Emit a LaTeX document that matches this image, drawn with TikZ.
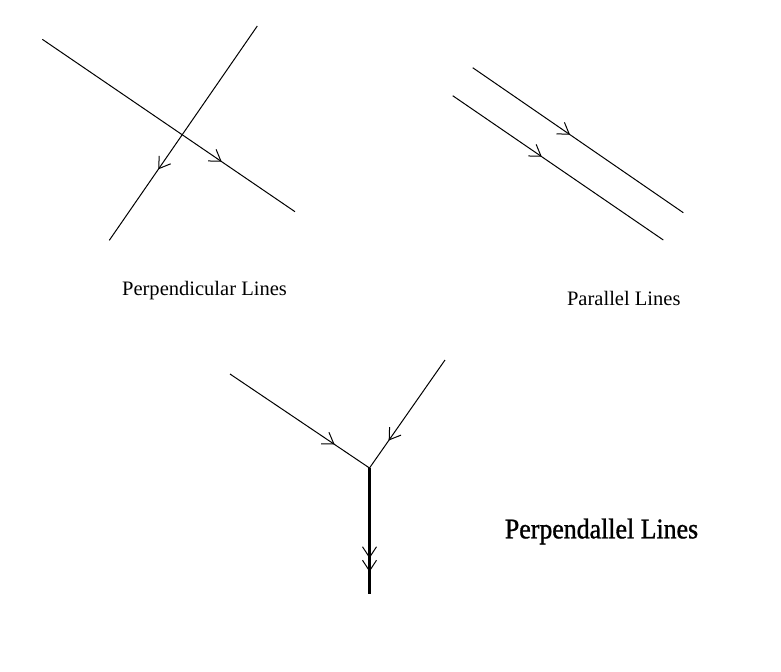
\documentclass[tikz,border=0pt]{standalone}
\usepackage{fontspec}
\usepackage{graphicx}
\setmainfont{Liberation Serif}
\newfontface\heavyfont[FakeBold=1.2]{Liberation Serif}
\usetikzlibrary{arrows.meta, decorations.markings}

\begin{document}
\begin{tikzpicture}[
    x=0.75pt, y=-0.75pt,
    thinline/.style={line width=0.75pt},
    thickline/.style={line width=1.9pt},
    barb/.tip={Straight Barb[length=8pt, width=10.5pt, line width=0.75pt]},
    midarrow/.style={postaction={decorate, decoration={markings,
        mark=at position #1 with {\arrow{barb}}}}},
    caption/.style={font=\fontsize{15.4}{18}\selectfont, anchor=base, inner sep=0pt}
]

% page frame
\useasboundingbox (0,0) rectangle (781,671);

% Perpendicular lines
\coordinate (perp_a_start) at (42.3,39.3);
\coordinate (perp_a_end) at (295,211.7);
\coordinate (perp_b_start) at (257.3,26);
\coordinate (perp_b_end) at (109.3,240.3);
\draw[thinline, midarrow=0.71] (perp_a_start) -- (perp_a_end);
\draw[thinline, midarrow=0.669] (perp_b_start) -- (perp_b_end);
\node[caption] (perp_label) at (204.5,295.7) {Perpendicular Lines};

% Parallel lines
\coordinate (par_a_start) at (472.7,67.7);
\coordinate (par_a_end) at (683.3,212.7);
\coordinate (par_b_start) at (452.7,95.7);
\coordinate (par_b_end) at (663.3,240);
\draw[thinline, midarrow=0.462] (par_a_start) -- (par_a_end);
\draw[thinline, midarrow=0.423] (par_b_start) -- (par_b_end);
\node[caption] (par_label) at (623.8,305.3) {Parallel Lines};

% Perpendallel lines
\coordinate (left_start) at (230,374);
\coordinate (right_start) at (445,360);
\coordinate (junction) at (369.5,468);
\coordinate (stem_end) at (369.5,594);
\draw[thinline, midarrow=0.75] (left_start) -- (junction);
\draw[thinline, midarrow=0.746] (right_start) -- (junction);
\draw[thickline, midarrow=0.717, midarrow=0.824] (junction) -- (stem_end);
\node[caption, font=\heavyfont\fontsize{19.4}{22}\selectfont] (perpendallel_label) at (601.5,538.3) {\scalebox{1}[1.1]{Perpendallel Lines}};

\end{tikzpicture}
\end{document}
